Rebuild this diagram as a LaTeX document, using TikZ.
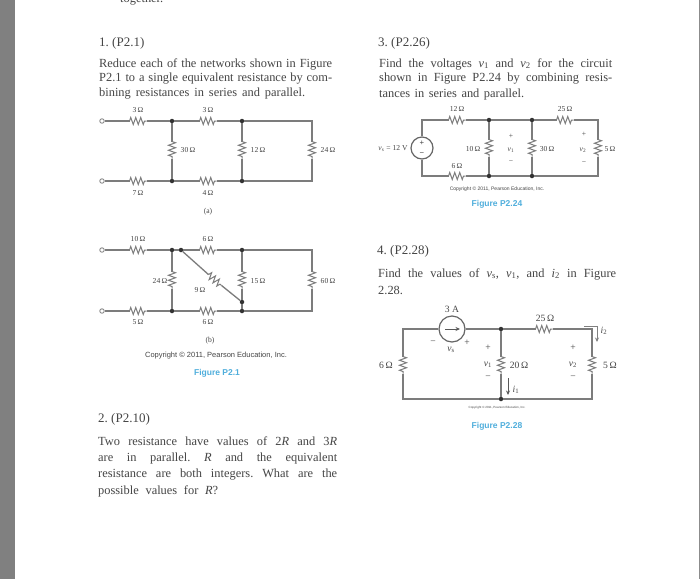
\documentclass[tikz,border=0pt]{standalone}
\usepackage{fontspec}
\setmainfont{Liberation Serif}
\newfontfamily\figsans{Liberation Sans}
\usetikzlibrary{decorations.pathmorphing,arrows.meta}
\definecolor{wirec}{HTML}{7C7C7C}
\definecolor{textc}{HTML}{454545}
\definecolor{figc}{HTML}{4FAEDC}
\definecolor{bandc}{HTML}{808080}
\tikzset{
  wire/.style={draw=wirec,line width=1.3pt},
  zz/.style={draw=wirec,line width=1pt,decorate,decoration={zigzag,amplitude=3.5pt,segment length=5pt}},
  dot/.style={circle,fill=black!80,draw=none,minimum size=4.5pt,inner sep=0pt},
  term/.style={circle,fill=white,draw=wirec,line width=.8pt,minimum size=4.5pt,inner sep=0pt},
  src/.style={circle,draw=black!60,fill=white,line width=1.2pt,inner sep=0pt},
  lab/.style={inner sep=0pt,text=textc,font=\fontsize{7.6}{8}\selectfont},
  labd/.style={inner sep=0pt,text=textc,font=\fontsize{9.6}{10}\selectfont},
  ttl/.style={anchor=base west,inner sep=0pt,text=textc,font=\frenchspacing\fontsize{13}{14}\selectfont},
  body/.style={anchor=base west,inner sep=0pt,text=textc,font=\frenchspacing\fontsize{12.4}{14}\selectfont},
  fig/.style={inner sep=0pt,text=figc,font=\figsans\bfseries\fontsize{8.5}{9}\selectfont},
  copyr/.style={inner sep=0pt,text=textc,font=\figsans\fontsize{7.5}{8}\selectfont},
}
\newcommand{\rs}[4]{%
  \begin{scope}[shift={(#2,#3)},rotate=#4]
    \coordinate (#1-a) at (-8.5,0);
    \coordinate (#1-b) at (8.5,0);
    \draw[zz] (#1-a) -- (#1-b);
  \end{scope}}
\newcommand{\vv}[1]{\textit{v}\textsubscript{#1}}
\newcommand{\ii}[1]{\textit{i}\textsubscript{#1}}
\begin{document}
\begin{tikzpicture}[x=1pt,y=-1pt]
\useasboundingbox (0,0) rectangle (700,579);
\fill[white] (0,0) rectangle (700,579);
\fill[bandc] (0,0) rectangle (15,579);
\draw[black!45,line width=.8pt] (699,0) -- (699,579);

% ---- text, left column
\node[body] (tg) at (120,2) {together.};
\node[ttl] (t1) at (99,46) {1. (P2.1)};
\node[body] (b11) at (99,67) {\makebox[233pt][s]{Reduce each of the networks shown in Figure}};
\node[body] (b12) at (99,81) {\makebox[233pt][s]{P2.1 to a single equivalent resistance by com-}};
\node[body] (b13) at (99,96) {\makebox[206pt][s]{bining resistances in series and parallel.}};
\node[ttl] (t2) at (98,422) {2. (P2.10)};
\node[body] (b21) at (98,445) {\makebox[239pt][s]{Two resistance have values of 2\textit{R} and 3\textit{R}}};
\node[body] (b22) at (98,461) {\makebox[239pt][s]{are in parallel. \textit{R} and the equivalent}};
\node[body] (b23) at (98,477) {\makebox[239pt][s]{resistance are both integers. What are the}};
\node[body] (b24) at (98,494) {\makebox[120pt][s]{possible values for \textit{R}?}};
% ---- text, right column
\node[ttl] (t3) at (378,46) {3. (P2.26)};
\node[body] (b31) at (379,67) {\makebox[233pt][s]{Find the voltages \vv{1} and \vv{2} for the circuit}};
\node[body] (b32) at (379,81) {\makebox[233pt][s]{shown in Figure P2.24 by combining resis-}};
\node[body] (b33) at (379,97) {\makebox[145pt][s]{tances in series and parallel.}};
\node[ttl] (t4) at (377,254) {4. (P2.28)};
\node[body] (b41) at (378,277) {\makebox[238pt][s]{Find the values of \vv{s}, \vv{1}, and \ii{2} in Figure}};
\node[body] (b42) at (378,294) {2.28.};

% ---- circuit (a)
\node[term] (a0) at (102,121) {};
\node[term] (a9) at (102,181) {};
\node[dot] (a1) at (172,121) {};
\node[dot] (a2) at (242,121) {};
\node[dot] (a3) at (172,181) {};
\node[dot] (a4) at (242,181) {};
\coordinate (a5) at (312,121);
\coordinate (a6) at (312,181);
\rs{ar1}{138}{121}{0}
\rs{ar2}{208}{121}{0}
\rs{ar3}{138}{181}{0}
\rs{ar4}{208}{181}{0}
\rs{ar5}{172}{150}{-90}
\rs{ar6}{242}{150}{-90}
\rs{ar7}{312}{150}{-90}
\draw[wire] (a0) -- (ar1-a) (ar1-b) -- (a1) -- (ar2-a) (ar2-b) -- (a2) -- (a5) -- (ar7-a);
\draw[wire] (a9) -- (ar3-a) (ar3-b) -- (a3) -- (ar4-a) (ar4-b) -- (a4) -- (a6) -- (ar7-b);
\draw[wire] (a1) -- (ar5-a) (ar5-b) -- (a3) (a2) -- (ar6-a) (ar6-b) -- (a4);
\node[lab] (al1) at (138,110) {3\,Ω};
\node[lab] (al2) at (208,110) {3\,Ω};
\node[lab] (al3) at (188,150) {30\,Ω};
\node[lab] (al4) at (258,150) {12\,Ω};
\node[lab] (al5) at (328,150) {24\,Ω};
\node[lab] (al6) at (138,193) {7\,Ω};
\node[lab] (al7) at (208,193) {4\,Ω};
\node[lab] (al8) at (208,212) {(a)};

% ---- circuit (b)
\node[term] (b0) at (102,250) {};
\node[term] (b9) at (102,311) {};
\node[dot] (b1) at (172,250) {};
\node[dot] (b1x) at (181,250) {};
\node[dot] (b2) at (242,250) {};
\node[dot] (b2x) at (242,302) {};
\node[dot] (b3) at (172,311) {};
\node[dot] (b4) at (242,311) {};
\coordinate (b5) at (312,250);
\coordinate (b6) at (312,311);
\rs{br1}{138}{250}{0}
\rs{br2}{208}{250}{0}
\rs{br3}{138}{311}{0}
\rs{br4}{208}{311}{0}
\rs{br5}{172}{280}{-90}
\rs{br6}{242}{280}{-90}
\rs{br7}{312}{280}{-90}
\rs{br8}{215}{280}{-40}
\draw[wire] (b0) -- (br1-a) (br1-b) -- (b1) -- (b1x) -- (br2-a) (br2-b) -- (b2) -- (b5) -- (br7-a);
\draw[wire] (b9) -- (br3-a) (br3-b) -- (b3) -- (br4-a) (br4-b) -- (b4) -- (b6) -- (br7-b);
\draw[wire] (b1) -- (br5-a) (br5-b) -- (b3) (b2) -- (br6-a) (br6-b) -- (b2x) -- (b4);
\draw[wire] (b1x) -- (br8-a) (br8-b) -- (b2x);
\node[lab] (bl1) at (138,239) {10\,Ω};
\node[lab] (bl2) at (208,239) {6\,Ω};
\node[lab] (bl3) at (160,281) {24\,Ω};
\node[lab] (bl4) at (258,281) {15\,Ω};
\node[lab] (bl5) at (328,281) {60\,Ω};
\node[lab] (bl6) at (200,290) {9\,Ω};
\node[lab] (bl7) at (138,322) {5\,Ω};
\node[lab] (bl8) at (208,322) {6\,Ω};
\node[lab] (bl9) at (210,341) {(b)};
\node[copyr] (bc) at (216,356) {Copyright © 2011, Pearson Education, Inc.};
\node[fig] (bf) at (217,373) {Figure P2.1};

% ---- circuit P2.24
\node[src,minimum size=22pt] (cs) at (422,148) {};
\node[lab,font=\fontsize{8}{8}\selectfont\bfseries] (csp) at (422,143) {+};
\node[lab,font=\fontsize{8}{8}\selectfont\bfseries] (csm) at (422,154) {−};
\node[dot] (c1) at (489,120) {};
\node[dot] (c2) at (532,120) {};
\node[dot] (c3) at (489,176) {};
\node[dot] (c4) at (532,176) {};
\rs{cr1}{457}{120}{0}
\rs{cr2}{565}{120}{0}
\rs{cr3}{457}{176}{0}
\rs{cr4}{489}{148}{-90}
\rs{cr5}{532}{148}{-90}
\rs{cr6}{598}{148}{-90}
\draw[wire] (cs.north) |- (cr1-a) (cr1-b) -- (c1) -- (c2) -- (cr2-a) (cr2-b) -| (cr6-a);
\draw[wire] (cs.south) |- (cr3-a) (cr3-b) -- (c3) -- (c4) -| (cr6-b);
\draw[wire] (c1) -- (cr4-a) (cr4-b) -- (c3) (c2) -- (cr5-a) (cr5-b) -- (c4);
\node[lab] (cl1) at (457,109) {12\,Ω};
\node[lab] (cl2) at (565,109) {25\,Ω};
\node[lab] (cl3) at (393,149) {\vv{s} = 12 V};
\node[lab] (cl4) at (457,166) {6\,Ω};
\node[lab] (cl5) at (473,149) {10\,Ω};
\node[lab] (cl6) at (511,136) {+};
\node[lab] (cl7) at (511,150) {\vv{1}};
\node[lab] (cl8) at (511,162) {−};
\node[lab] (cl9) at (547,149) {30\,Ω};
\node[lab] (cl10) at (584,134) {+};
\node[lab] (cl11) at (583,150) {\vv{2}};
\node[lab] (cl12) at (584,163) {−};
\node[lab] (cl13) at (610,149) {5\,Ω};
\node[copyr,font=\figsans\fontsize{5}{5}\selectfont] (cc) at (497,189) {Copyright © 2011, Pearson Education, Inc.};
\node[fig] (cf) at (497,204) {Figure P2.24};

% ---- circuit P2.28
\node[src,minimum size=26pt] (ds) at (452,329) {};
\coordinate (dsa) at (445,329);
\coordinate (dsb) at (460,329);
\draw[draw=black!65,line width=.9pt,-{Stealth[length=4.5pt,width=4pt]}] (dsa) -- (dsb);
\node[dot] (d1) at (501,329) {};
\node[dot] (d2) at (501,399) {};
\coordinate (dtl) at (403,329);
\coordinate (dbl) at (403,399);
\coordinate (dtr) at (592,329);
\coordinate (dbr) at (592,399);
\rs{dr1}{544}{329}{0}
\rs{dr2}{403}{365}{-90}
\rs{dr3}{501}{365}{-90}
\rs{dr4}{592}{365}{-90}
\draw[wire] (dr2-a) -- (dtl) -- (ds) (ds) -- (d1) -- (dr1-a) (dr1-b) -- (dtr) -- (dr4-a);
\draw[wire] (dr2-b) -- (dbl) -- (d2) -- (dbr) -- (dr4-b);
\draw[wire] (d1) -- (dr3-a) (dr3-b) -- (d2);
\coordinate (di1a) at (508,378);
\coordinate (di1b) at (508,395);
\draw[draw=black!65,line width=.8pt,-{Stealth[length=4.5pt,width=4pt]}] (di1a) -- (di1b);
\coordinate (di2a) at (584,326);
\coordinate (di2c) at (597,326);
\coordinate (di2b) at (597,342);
\draw[draw=black!50,line width=.7pt,-{Stealth[length=4.5pt,width=4pt]}] (di2a) -- (di2c) -- (di2b);
\node[labd] (dl1) at (452,309) {3 A};
\node[labd] (dl2) at (545,318) {25\,Ω};
\node[labd] (dl3) at (386,365) {6\,Ω};
\node[labd] (dl4) at (433,343) {−};
\node[labd] (dl5) at (467,343) {+};
\node[labd] (dl6) at (451,350) {\vv{s}};
\node[labd] (dl7) at (488,348) {+};
\node[labd] (dl8) at (488,365) {\vv{1}};
\node[labd] (dl9) at (519,365) {20\,Ω};
\node[labd] (dl10) at (488,378) {−};
\node[labd] (dl11) at (516,390) {\ii{1}};
\node[labd] (dl12) at (573,348) {+};
\node[labd] (dl13) at (573,365) {\vv{2}};
\node[labd] (dl14) at (573,378) {−};
\node[labd] (dl15) at (610,365) {5\,Ω};
\node[labd] (dl16) at (604,331) {\ii{2}};
\node[copyr,font=\figsans\fontsize{3}{3}\selectfont] (dc) at (497,408) {Copyright © 2011, Pearson Education, Inc.};
\node[fig] (df) at (497,426) {Figure P2.28};
\end{tikzpicture}
\end{document}
